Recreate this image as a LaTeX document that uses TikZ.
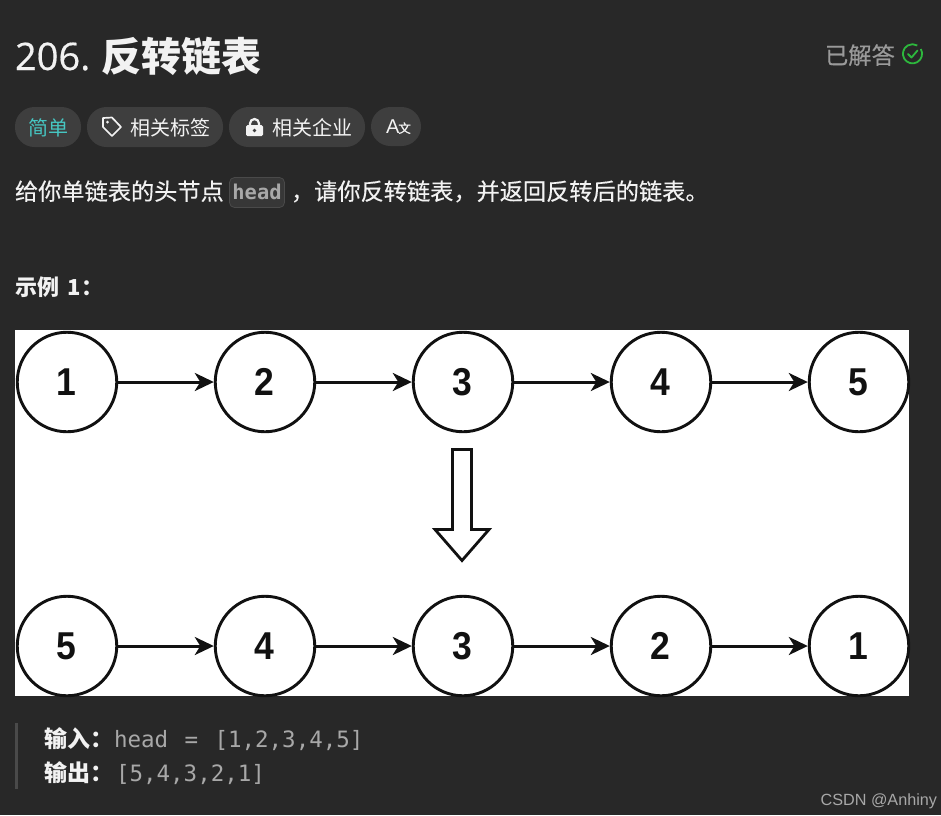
\documentclass[tikz,border=0pt]{standalone}
\usepackage{graphicx}
\usepackage{fontspec}
\setmainfont{Noto Sans CJK SC}
\newfontfamily\medf[FakeBold=0.35]{Noto Sans CJK SC}
\newfontfamily\latinf[FakeBold=0.4]{Open Sans}
\newfontfamily\monof{DejaVu Sans Mono}
\newfontfamily\sansf{Liberation Sans}
\usetikzlibrary{arrows.meta}
\definecolor{pagebg}{HTML}{282828}
\definecolor{pillbg}{HTML}{3E3E3E}
\definecolor{teal}{HTML}{46C6C2}
\definecolor{txt}{HTML}{F2F2F2}
\definecolor{muted}{HTML}{9A9A9A}
\definecolor{codec}{HTML}{A8A8A8}
\definecolor{okgreen}{HTML}{2DB83D}
\definecolor{inkc}{HTML}{111111}
\newcommand{\dg}[1]{\hspace*{-2pt}\scalebox{0.96}[1.05]{#1}}
\tikzset{
  lbl/.style={anchor=base west,inner sep=0pt,outer sep=0pt,text=txt},
  pill/.style={fill=pillbg,rounded corners=19.5pt,draw=none},
  listnode/.style={circle,draw=inkc,line width=2.9pt,fill=white,minimum size=99.5pt,inner sep=0pt,text=inkc,font=\sansf\bfseries\fontsize{37}{37}\selectfont},
  listarrow/.style={draw=inkc,line width=3pt,-{Stealth[length=19pt,width=18pt,inset=5.5pt]}}
}
\begin{document}
\begin{tikzpicture}[x=1pt,y=-1pt]
\fill[pagebg] (0,0) rectangle (941,815);
\useasboundingbox (0,0) rectangle (941,815);
% title
\node[lbl] (num) at (15,70) {\latinf\fontsize{38}{38}\selectfont 206.};
\node[lbl] (title) at (101,71) {\bfseries\fontsize{40}{40}\selectfont 反转链表};
\node[lbl,text=muted] (solved) at (825,64) {\medf\fontsize{23.3}{23}\selectfont 已解答};
\draw[okgreen,line width=1.8pt] (920.8,49) arc[start angle=-30,end angle=300,radius=9.6];
\draw[okgreen,line width=1.8pt,line cap=round,line join=round] (908,54) -- (911.5,57.5) -- (917.5,50.5);
% pills
\fill[pill] (15,107) rectangle (81,147);
\fill[pill] (87,107) rectangle (223,147);
\fill[pill] (229,107) rectangle (365,147);
\fill[pill] (371,107) rectangle (421,146);
\node[lbl,text=teal] (easy) at (28,135) {\fontsize{20}{20}\selectfont 简单};
\node[lbl] (tags) at (130,135) {\fontsize{20}{20}\selectfont 相关标签};
\node[lbl] (comp) at (272,135) {\fontsize{20}{20}\selectfont 相关企业};
\node[lbl] (trans) at (386,133) {\sansf\fontsize{20}{20}\selectfont A\hspace{-1pt}\normalfont\medf\fontsize{12.5}{12}\selectfont 文};
% tag icon
\draw[txt,line width=1.7pt,line join=round] (103,118) -- (112,117.5) -- (121,127) -- (112,136) -- (103,127) -- cycle;
\fill[txt] (107.5,122) circle (1.5);
% lock icon
\draw[txt,line width=2.2pt] (250,126) -- (250,123.5) arc[start angle=180,end angle=360,radius=4.5] -- (259,126);
\fill[txt,rounded corners=1.5pt] (246,125) rectangle (263,136);
\fill[pillbg] (254.5,130.5) circle (1.9);
% body
\node[lbl] (desc1) at (15,200) {\medf\fontsize{23.2}{23}\selectfont 给你单链表的头节点};
\node[draw=white!16!pagebg,fill=white!7!pagebg,rounded corners=5pt,line width=0.8pt,minimum width=55pt,minimum height=30pt,inner sep=0pt] (codebox) at (257,192.5) {};
\node[anchor=base,inner sep=0pt,text=codec] (code) at (257,199) {\monof\bfseries\fontsize{20.4}{20}\selectfont head};
\node[lbl] (desc2) at (291,200) {\medf\fontsize{23.2}{23}\selectfont ，请你反转链表，并返回反转后的链表。};
\node[lbl] (ex) at (15,295) {\bfseries\fontsize{22}{22}\selectfont 示例\hspace{9pt}1：};
% image
\fill[white] (15,330) rectangle (909,696);
\node[listnode] (a1) at (67,382) {\dg{1}};
\node[listnode] (a2) at (265,382) {\dg{2}};
\node[listnode] (a3) at (463,382) {\dg{3}};
\node[listnode] (a4) at (661,382) {\dg{4}};
\node[listnode] (a5) at (859,382) {\dg{5}};
\node[listnode] (b5) at (67,646) {\dg{5}};
\node[listnode] (b4) at (265,646) {\dg{4}};
\node[listnode] (b3) at (463,646) {\dg{3}};
\node[listnode] (b2) at (661,646) {\dg{2}};
\node[listnode] (b1) at (859,646) {\dg{1}};
\draw[listarrow] (a1) -- (a2);
\draw[listarrow] (a2) -- (a3);
\draw[listarrow] (a3) -- (a4);
\draw[listarrow] (a4) -- (a5);
\draw[listarrow] (b5) -- (b4);
\draw[listarrow] (b4) -- (b3);
\draw[listarrow] (b3) -- (b2);
\draw[listarrow] (b2) -- (b1);
% hollow down arrow
\draw[inkc,line width=2.8pt,fill=white,line join=miter] (452.5,449.5) -- (471.5,449.5) -- (471.5,529.5) -- (489,529.5) -- (462,560.5) -- (435,529.5) -- (452.5,529.5) -- cycle;
% quote
\fill[white!16!pagebg] (15,723) rectangle (18,789);
\node[lbl] (inl) at (44,747) {\bfseries\fontsize{23}{23}\selectfont 输入：};
\node[lbl,text=codec] (inv) at (114,747) {\monof\fontsize{22.5}{23}\selectfont head\hspace{16.4pt}=\hspace{16.4pt}[1,2,3,4,5]};
\node[lbl] (outl) at (44,781) {\bfseries\fontsize{23}{23}\selectfont 输出：};
\node[lbl,text=codec] (outv) at (116,781) {\monof\fontsize{22.5}{23}\selectfont [5,4,3,2,1]};
\node[lbl,anchor=base east,text=codec] (wm) at (937,805) {\sansf\fontsize{16.2}{17}\selectfont CSDN @Anhiny};
\end{tikzpicture}
\end{document}
